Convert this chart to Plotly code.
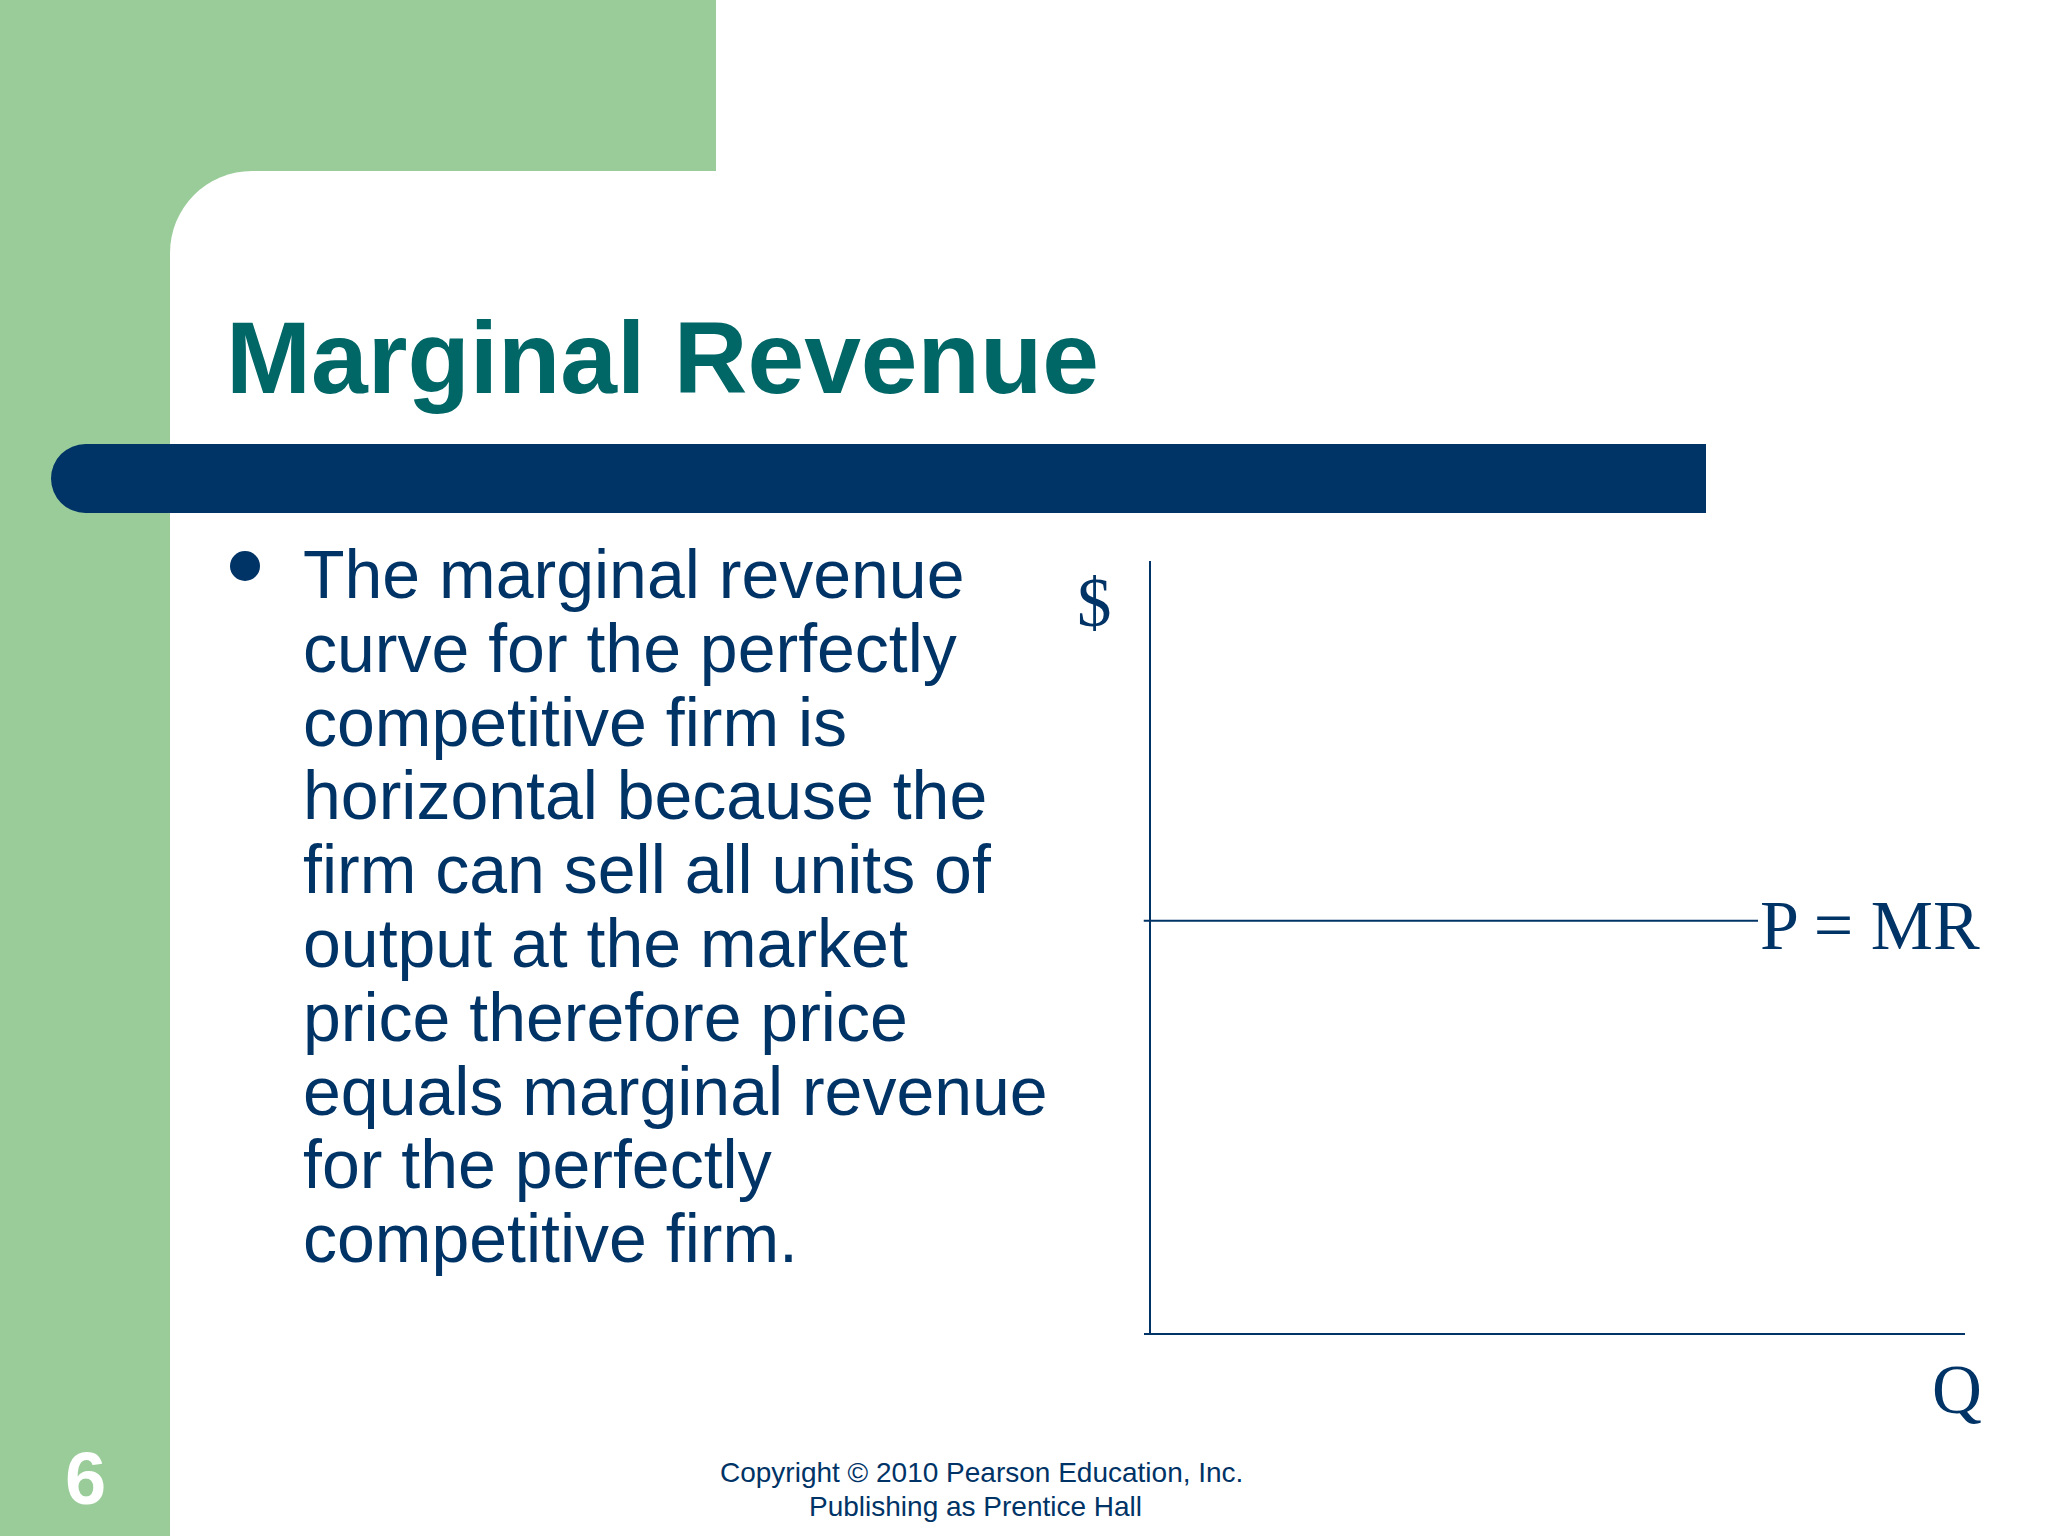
import plotly.graph_objects as go

# ---- data ----
quantity = [-0.08, 7.46]          # P = MR line extent (Q units)
price = [5.34, 5.34]              # constant price = marginal revenue
q_range = [-0.08, 10]
p_range = [0, 10]
curve_label = "P = MR"
y_label = "$"
x_label = "Q"
title_text = "Marginal Revenue"
bullet_lines = [
    "The marginal revenue",
    "curve for the perfectly",
    "competitive firm is",
    "horizontal because the",
    "firm can sell all units of",
    "output at the market",
    "price therefore price",
    "equals marginal revenue",
    "for the perfectly",
    "competitive firm.",
]
slide_number = "6"
copyright_lines = ["Copyright \u00a9 2010 Pearson Education, Inc.", "Publishing as Prentice Hall"]

# ---- styling ----
W, H = 2048, 1536
GREEN = "#99CC99"
NAVY = "#003366"
TEAL = "#006666"
SANS = "Liberation Sans, Arial, sans-serif"
SERIF = "Liberation Serif, Times New Roman, serif"


def px(x):
    return x / W


def py(y):
    return 1 - y / H


fig = go.Figure()
fig.add_trace(go.Scatter(
    x=quantity, y=price, mode="lines",
    line=dict(color=NAVY, width=2),
    hoverinfo="skip", showlegend=False,
))

shapes = [
    # green side strip and top block
    dict(type="rect", xref="paper", yref="paper", x0=0, x1=px(170), y0=0, y1=1,
         fillcolor=GREEN, line=dict(width=0), layer="below"),
    dict(type="rect", xref="paper", yref="paper", x0=0, x1=px(716), y0=py(171), y1=1,
         fillcolor=GREEN, line=dict(width=0), layer="below"),
    # rounded corner of the white panel
    dict(type="rect", xref="paper", yref="paper", x0=px(170), x1=px(252), y0=py(253), y1=py(171),
         fillcolor=GREEN, line=dict(width=0), layer="below"),
    dict(type="circle", xref="paper", yref="paper", x0=px(170), x1=px(334), y0=py(335), y1=py(171),
         fillcolor="white", line=dict(width=0), layer="below"),
    # navy title bar with rounded left end
    dict(type="circle", xref="paper", yref="paper", x0=px(51), x1=px(120), y0=py(513), y1=py(444),
         fillcolor=NAVY, line=dict(width=0), layer="below"),
    dict(type="rect", xref="paper", yref="paper", x0=px(85), x1=px(1706), y0=py(513), y1=py(444),
         fillcolor=NAVY, line=dict(width=0), layer="below"),
    # bullet dot
    dict(type="circle", xref="paper", yref="paper", x0=px(230), x1=px(260), y0=py(581), y1=py(551),
         fillcolor=NAVY, line=dict(width=0), layer="below"),
]

annotations = [
    dict(text=title_text, xref="paper", yref="paper", x=px(224), y=py(358),
         xanchor="left", yanchor="middle", showarrow=False,
         font=dict(family=SANS, size=102, color=TEAL, weight="bold")),
    dict(text=slide_number, xref="paper", yref="paper", x=px(85), y=py(1478),
         xanchor="center", yanchor="middle", showarrow=False,
         font=dict(family=SANS, size=74, color="white", weight="bold")),
    dict(text=copyright_lines[0], xref="paper", yref="paper", x=px(981), y=py(1472),
         xanchor="center", yanchor="middle", showarrow=False,
         font=dict(family=SANS, size=28, color=NAVY)),
    dict(text=copyright_lines[1], xref="paper", yref="paper", x=px(975), y=py(1506),
         xanchor="center", yanchor="middle", showarrow=False,
         font=dict(family=SANS, size=28, color=NAVY)),
    dict(text=y_label, xref="paper", yref="paper", x=px(1094), y=py(603),
         xanchor="center", yanchor="middle", showarrow=False,
         font=dict(family=SERIF, size=69, color=NAVY)),
    dict(text=x_label, xref="paper", yref="paper", x=px(1957), y=py(1390),
         xanchor="center", yanchor="middle", showarrow=False,
         font=dict(family=SERIF, size=69, color=NAVY)),
    dict(text=curve_label, xref="x", yref="y", x=quantity[-1], y=price[-1],
         xanchor="left", yanchor="middle", showarrow=False, xshift=0, yshift=-5,
         font=dict(family=SERIF, size=70, color=NAVY)),
]

for i, line in enumerate(bullet_lines):
    baseline = 598 + 73.8 * i
    annotations.append(dict(
        text=line, xref="paper", yref="paper", x=px(301), y=py(baseline - 24),
        xanchor="left", yanchor="middle", showarrow=False,
        font=dict(family=SANS, size=68, color=NAVY)))

fig.update_layout(
    width=W, height=H,
    margin=dict(l=0, r=0, t=0, b=0),
    paper_bgcolor="white", plot_bgcolor="rgba(0,0,0,0)",
    showlegend=False,
    shapes=shapes, annotations=annotations,
    xaxis=dict(domain=[px(1143.5), px(1965)], range=q_range,
               showline=True, linecolor=NAVY, linewidth=2,
               showgrid=False, zeroline=False, showticklabels=False, ticks=""),
    yaxis=dict(domain=[py(1333), py(561)], range=p_range,
               anchor="free", position=px(1150),
               showline=True, linecolor=NAVY, linewidth=2,
               showgrid=False, zeroline=False, showticklabels=False, ticks=""),
)

fig.write_html("out.html", config={"displayModeBar": False},
               post_script="document.body.style.margin='0';")
